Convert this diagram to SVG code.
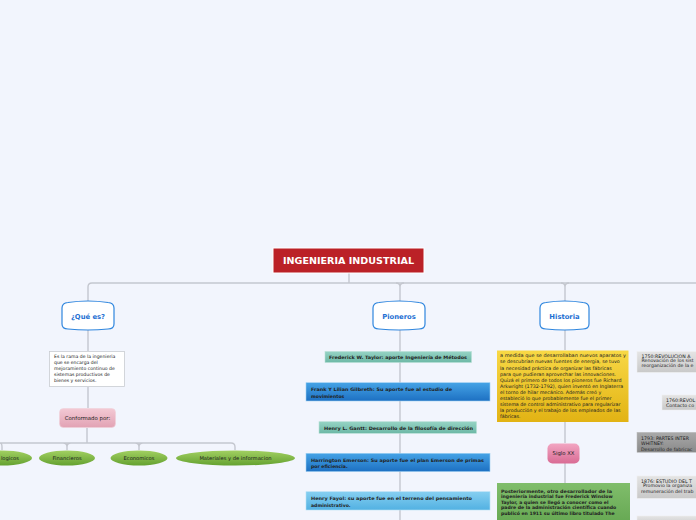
<svg xmlns="http://www.w3.org/2000/svg" width="696" height="520" viewBox="0 0 696 520">
<defs>
<style>
.t{font-family:"DejaVu Sans","Liberation Sans",sans-serif;fill:#222}
.b{font-weight:bold}
.l1{font-family:"DejaVu Sans","Liberation Sans",sans-serif;font-size:6.8px;font-weight:bold;fill:#1d6fd2;text-anchor:middle}
.c{fill:none;stroke:#c4c7cf;stroke-width:1.4}
.l1n{fill:#fff;stroke:#2f86de;stroke-width:1.2}
</style>
<linearGradient id="gBlue" x1="0" y1="0" x2="0" y2="1"><stop offset="0" stop-color="#45a3e6"/><stop offset="1" stop-color="#1d70c2"/></linearGradient>
<linearGradient id="gLBlue" x1="0" y1="0" x2="0" y2="1"><stop offset="0" stop-color="#86cff1"/><stop offset="1" stop-color="#52b1e2"/></linearGradient>
<linearGradient id="gTeal" x1="0" y1="0" x2="0" y2="1"><stop offset="0" stop-color="#95d3c4"/><stop offset="1" stop-color="#6db8a6"/></linearGradient>
<linearGradient id="gYel" x1="0" y1="0" x2="0" y2="1"><stop offset="0" stop-color="#f8d845"/><stop offset="1" stop-color="#e2b314"/></linearGradient>
<linearGradient id="gEll" x1="0" y1="0" x2="0" y2="1"><stop offset="0" stop-color="#a2d062"/><stop offset="1" stop-color="#64a130"/></linearGradient>
<linearGradient id="gPink" x1="0" y1="0" x2="0" y2="1"><stop offset="0" stop-color="#f3c9d4"/><stop offset="1" stop-color="#e2a2b4"/></linearGradient>
<linearGradient id="gSig" x1="0" y1="0" x2="0" y2="1"><stop offset="0" stop-color="#f2a6c2"/><stop offset="1" stop-color="#d96b94"/></linearGradient>
<linearGradient id="gGrn" x1="0" y1="0" x2="0" y2="1"><stop offset="0" stop-color="#80bd6b"/><stop offset="1" stop-color="#66a853"/></linearGradient>
<linearGradient id="gGL" x1="0" y1="0" x2="0" y2="1"><stop offset="0" stop-color="#e4e4e4"/><stop offset="1" stop-color="#c9c9c9"/></linearGradient>
<linearGradient id="gGD" x1="0" y1="0" x2="0" y2="1"><stop offset="0" stop-color="#a9a9a9"/><stop offset="1" stop-color="#8a8a8a"/></linearGradient>
</defs>
<rect x="0" y="0" width="696" height="520" fill="#f2f5fd"/>

<g id="connectors">
<path class="c" d="M88,301 V287 Q88,283 92,283 H696"/>
<path class="c" d="M400,301 V287 Q400,283 396,283 M400,287 Q400,283 404,283"/>
<path class="c" d="M565,301 V287 Q565,283 561,283 M565,287 Q565,283 569,283"/>
<path class="c" stroke="#a9acb3" d="M349,273 V283"/>
<path class="c" d="M88,330 V351 M88,387 V408 M87,428 V443"/>
<path class="c" d="M0,443 H231 Q235,443 235,447 V450 M63,443 Q67,443 67,447 V450 M71,443 Q67,443 67,447 M135,443 Q139,443 139,447 V450 M143,443 Q139,443 139,447 M0,443 Q2,443 2,447 V450"/>
<path class="c" d="M400,330 V520"/>
<path class="c" d="M565,330 V350 M565,422 V443 M565,463 V483"/>
</g>

<g id="root">
<rect x="273" y="248" width="151" height="25" fill="#bb2127" stroke="#ffffff" stroke-width="1"/>
<text x="348.5" y="263.8" text-anchor="middle" font-family="DejaVu Sans, Liberation Sans, sans-serif" font-size="8.2" font-weight="bold" fill="#fff" textLength="131" lengthAdjust="spacingAndGlyphs">INGENIERIA INDUSTRIAL</text>
</g>

<g id="que-es">
<path class="l1n" d="M62,308 Q62,303 68,302.5 Q88,299.5 108,302.5 Q114,303 114,308 V324 Q114,329 108,329 Q88,331 68,329 Q62,329 62,324 Z"/>
<text class="l1" x="88" y="318.5">¿Qué es?</text>
</g>
<g id="pioneros">
<path class="l1n" d="M373,308 Q373,303 379,302.5 Q399,299.5 419,302.5 Q425,303 425,308 V324 Q425,329 419,329 Q399,331 379,329 Q373,329 373,324 Z"/>
<text class="l1" x="399" y="318.5">Pioneros</text>
</g>
<g id="historia">
<path class="l1n" d="M540,308 Q540,303 546,302.5 Q564.5,299.5 583,302.5 Q589,303 589,308 V324 Q589,329 583,329 Q564.5,331 546,329 Q540,329 540,324 Z"/>
<text class="l1" x="564.5" y="318.5">Historia</text>
</g>

<g id="def">
<rect x="49.5" y="351.5" width="75" height="35" fill="#fff" stroke="#c9ccd2" stroke-width="0.8"/>
<text class="t" font-size="4.6" fill="#111">
<tspan x="54" y="358.3">Es la rama de la ingenieria</tspan>
<tspan x="54" y="364.3">que se encarga del</tspan>
<tspan x="54" y="370.3">mejoramiento continuo de</tspan>
<tspan x="54" y="376.3">sistemas productivos de</tspan>
<tspan x="54" y="382.3">bienes y servicios.</tspan>
</text>
</g>

<g id="conformado">
<rect x="59.5" y="408.5" width="56" height="19" rx="4" fill="url(#gPink)" stroke="#f0d0d8" stroke-width="0.6"/>
<text class="t" x="87.5" y="420" font-size="5.4" text-anchor="middle" fill="#2a2a2a">Conformado por:</text>
</g>

<g id="tecnologicos">
<ellipse cx="2" cy="458" rx="30" ry="7.5" fill="url(#gEll)"/>
<text class="t" x="19" y="459.8" font-size="5.2" text-anchor="end" fill="#2a2a2a">logicos</text>
</g>
<g id="financieros">
<ellipse cx="67" cy="458" rx="28" ry="7.5" fill="url(#gEll)"/>
<text class="t" x="67" y="459.8" font-size="5.2" text-anchor="middle" fill="#2a2a2a">Financieros</text>
</g>
<g id="economicos">
<ellipse cx="139" cy="458" rx="28.5" ry="7.5" fill="url(#gEll)"/>
<text class="t" x="139" y="459.8" font-size="5.2" text-anchor="middle" fill="#2a2a2a">Economicos</text>
</g>
<g id="materiales">
<ellipse cx="235.5" cy="458" rx="59.5" ry="7.5" fill="url(#gEll)"/>
<text class="t" x="235.5" y="459.8" font-size="5.2" text-anchor="middle" fill="#2a2a2a">Materiales y de informacion</text>
</g>

<g id="taylor">
<rect x="325" y="351.5" width="146.5" height="11" fill="url(#gTeal)" stroke="#b8e0d6" stroke-width="0.6"/>
<text class="t b" x="329" y="358.6" font-size="4.6" textLength="138" lengthAdjust="spacingAndGlyphs">Frederick W. Taylor: aporte Ingeniería de Métodos</text>
</g>
<g id="gilbreth">
<rect x="306" y="382.7" width="184" height="18.3" fill="url(#gBlue)" stroke="#9fd0f2" stroke-width="0.6"/>
<text class="t b" font-size="4.6"><tspan x="311" y="390.8" textLength="141" lengthAdjust="spacingAndGlyphs">Frank Y Lilian Gilbreth: Su aporte fue al estudio de</tspan><tspan x="311" y="397.6">movimientos</tspan></text>
</g>
<g id="gantt">
<rect x="319" y="421.7" width="157.5" height="11.6" fill="url(#gTeal)" stroke="#b8e0d6" stroke-width="0.6"/>
<text class="t b" x="324" y="430" font-size="4.6" textLength="149" lengthAdjust="spacingAndGlyphs">Henry L. Gantt: Desarrollo de la filosofía de dirección</text>
</g>
<g id="emerson">
<rect x="306" y="453.3" width="184" height="18.3" fill="url(#gBlue)" stroke="#9fd0f2" stroke-width="0.6"/>
<text class="t b" font-size="4.6"><tspan x="311" y="461.7" textLength="173" lengthAdjust="spacingAndGlyphs">Harrington Emerson: Su aporte fue el plan Emerson de primas</tspan><tspan x="311" y="468.4">por eficiencia.</tspan></text>
</g>
<g id="fayol">
<rect x="306" y="491.7" width="184" height="18.3" fill="url(#gLBlue)" stroke="#b6e0f6" stroke-width="0.6"/>
<text class="t b" font-size="4.6"><tspan x="311" y="500" textLength="161" lengthAdjust="spacingAndGlyphs">Henry Fayol: su aporte fue en el terreno del pensamiento</tspan><tspan x="311" y="506.7">administrativo.</tspan></text>
</g>

<g id="historia-texto">
<rect x="497" y="350.5" width="131.5" height="71.5" fill="url(#gYel)"/>
<text class="t" font-size="4.8" fill="#2a2200">
<tspan x="500" y="357.3" textLength="126" lengthAdjust="spacingAndGlyphs">a medida que se desarrollaban nuevos aparatos y</tspan>
<tspan x="500" y="363.4">se descubrían nuevas fuentes de energía, se tuvo</tspan>
<tspan x="500" y="369.5">la necesidad práctica de organizar las fábricas</tspan>
<tspan x="500" y="375.6">para que pudieran aprovechar las innovaciones.</tspan>
<tspan x="500" y="381.7">Quizá el primero de todos los pioneros fue Richard</tspan>
<tspan x="500" y="387.8">Arkwright (1732-1792), quien inventó en Inglaterra</tspan>
<tspan x="500" y="393.9">el torno de hilar mecánico. Además creó y</tspan>
<tspan x="500" y="400">estableció lo que probablemente fue el primer</tspan>
<tspan x="500" y="406.1">sistema de control administrativo para regularizar</tspan>
<tspan x="500" y="412.2">la producción y el trabajo de los empleados de las</tspan>
<tspan x="500" y="418.3">fábricas.</tspan>
</text>
</g>

<g id="siglo-xx">
<rect x="547.5" y="443.5" width="32" height="20" rx="5" fill="url(#gSig)"/>
<text class="t" x="563.5" y="455.3" font-size="5.3" text-anchor="middle" fill="#3a1a26">Siglo XX</text>
</g>

<g id="taylor-historia">
<rect x="497" y="483" width="133" height="40" fill="url(#gGrn)"/>
<text class="t b" font-size="4.6" fill="#1e2a12">
<tspan x="501" y="492.8" textLength="111" lengthAdjust="spacingAndGlyphs">Posteriormente, otro desarrollador de la</tspan>
<tspan x="501" y="498.3">ingeniería industrial fue Frederick Winslow</tspan>
<tspan x="501" y="503.8">Taylor, a quien se llegó a conocer como el</tspan>
<tspan x="501" y="509.3">padre de la administración científica cuando</tspan>
<tspan x="501" y="514.8">publicó en 1911 su último libro titulado The</tspan>
</text>
</g>

<g id="h1750">
<rect x="637" y="351.7" width="62" height="20.6" fill="url(#gGL)" stroke="#eeeeee" stroke-width="0.5"/>
<text class="t" font-size="4.7" fill="#222"><tspan x="641.5" y="357.6">1750:REVOLUCION A</tspan><tspan x="641.5" y="362.4">Renovación de los sist</tspan><tspan x="641.5" y="367.3">reorganización de la e</tspan></text>
</g>
<g id="h1760">
<rect x="662" y="395" width="37" height="15" fill="url(#gGL)" stroke="#eeeeee" stroke-width="0.5"/>
<text class="t" font-size="4.7" fill="#222"><tspan x="666" y="401.6">1760:REVOL</tspan><tspan x="666" y="406.6">Contacto co</tspan></text>
</g>
<g id="h1793">
<rect x="637" y="432.3" width="62" height="20" fill="url(#gGD)" stroke="#bbbbbb" stroke-width="0.5"/>
<text class="t" font-size="4.7" fill="#1a1a1a"><tspan x="641" y="440">1793: PARTES INTER</tspan><tspan x="641" y="445">WHITNEY:</tspan><tspan x="641" y="450.6">Desarrollo de fabricac</tspan></text>
</g>
<g id="h1876">
<rect x="637" y="476" width="62" height="22.3" fill="url(#gGL)" stroke="#eeeeee" stroke-width="0.5"/>
<text class="t" font-size="4.7" fill="#222"><tspan x="641" y="482.6">1876: ESTUDIO DEL T</tspan><tspan x="643" y="487.4">Promovio la organiza</tspan><tspan x="641" y="492.6">remuneración del trab</tspan></text>
</g>
<g id="h-next">
<rect x="637" y="516" width="62" height="10" fill="url(#gGL)" stroke="#eeeeee" stroke-width="0.5"/>
</g>
</svg>
